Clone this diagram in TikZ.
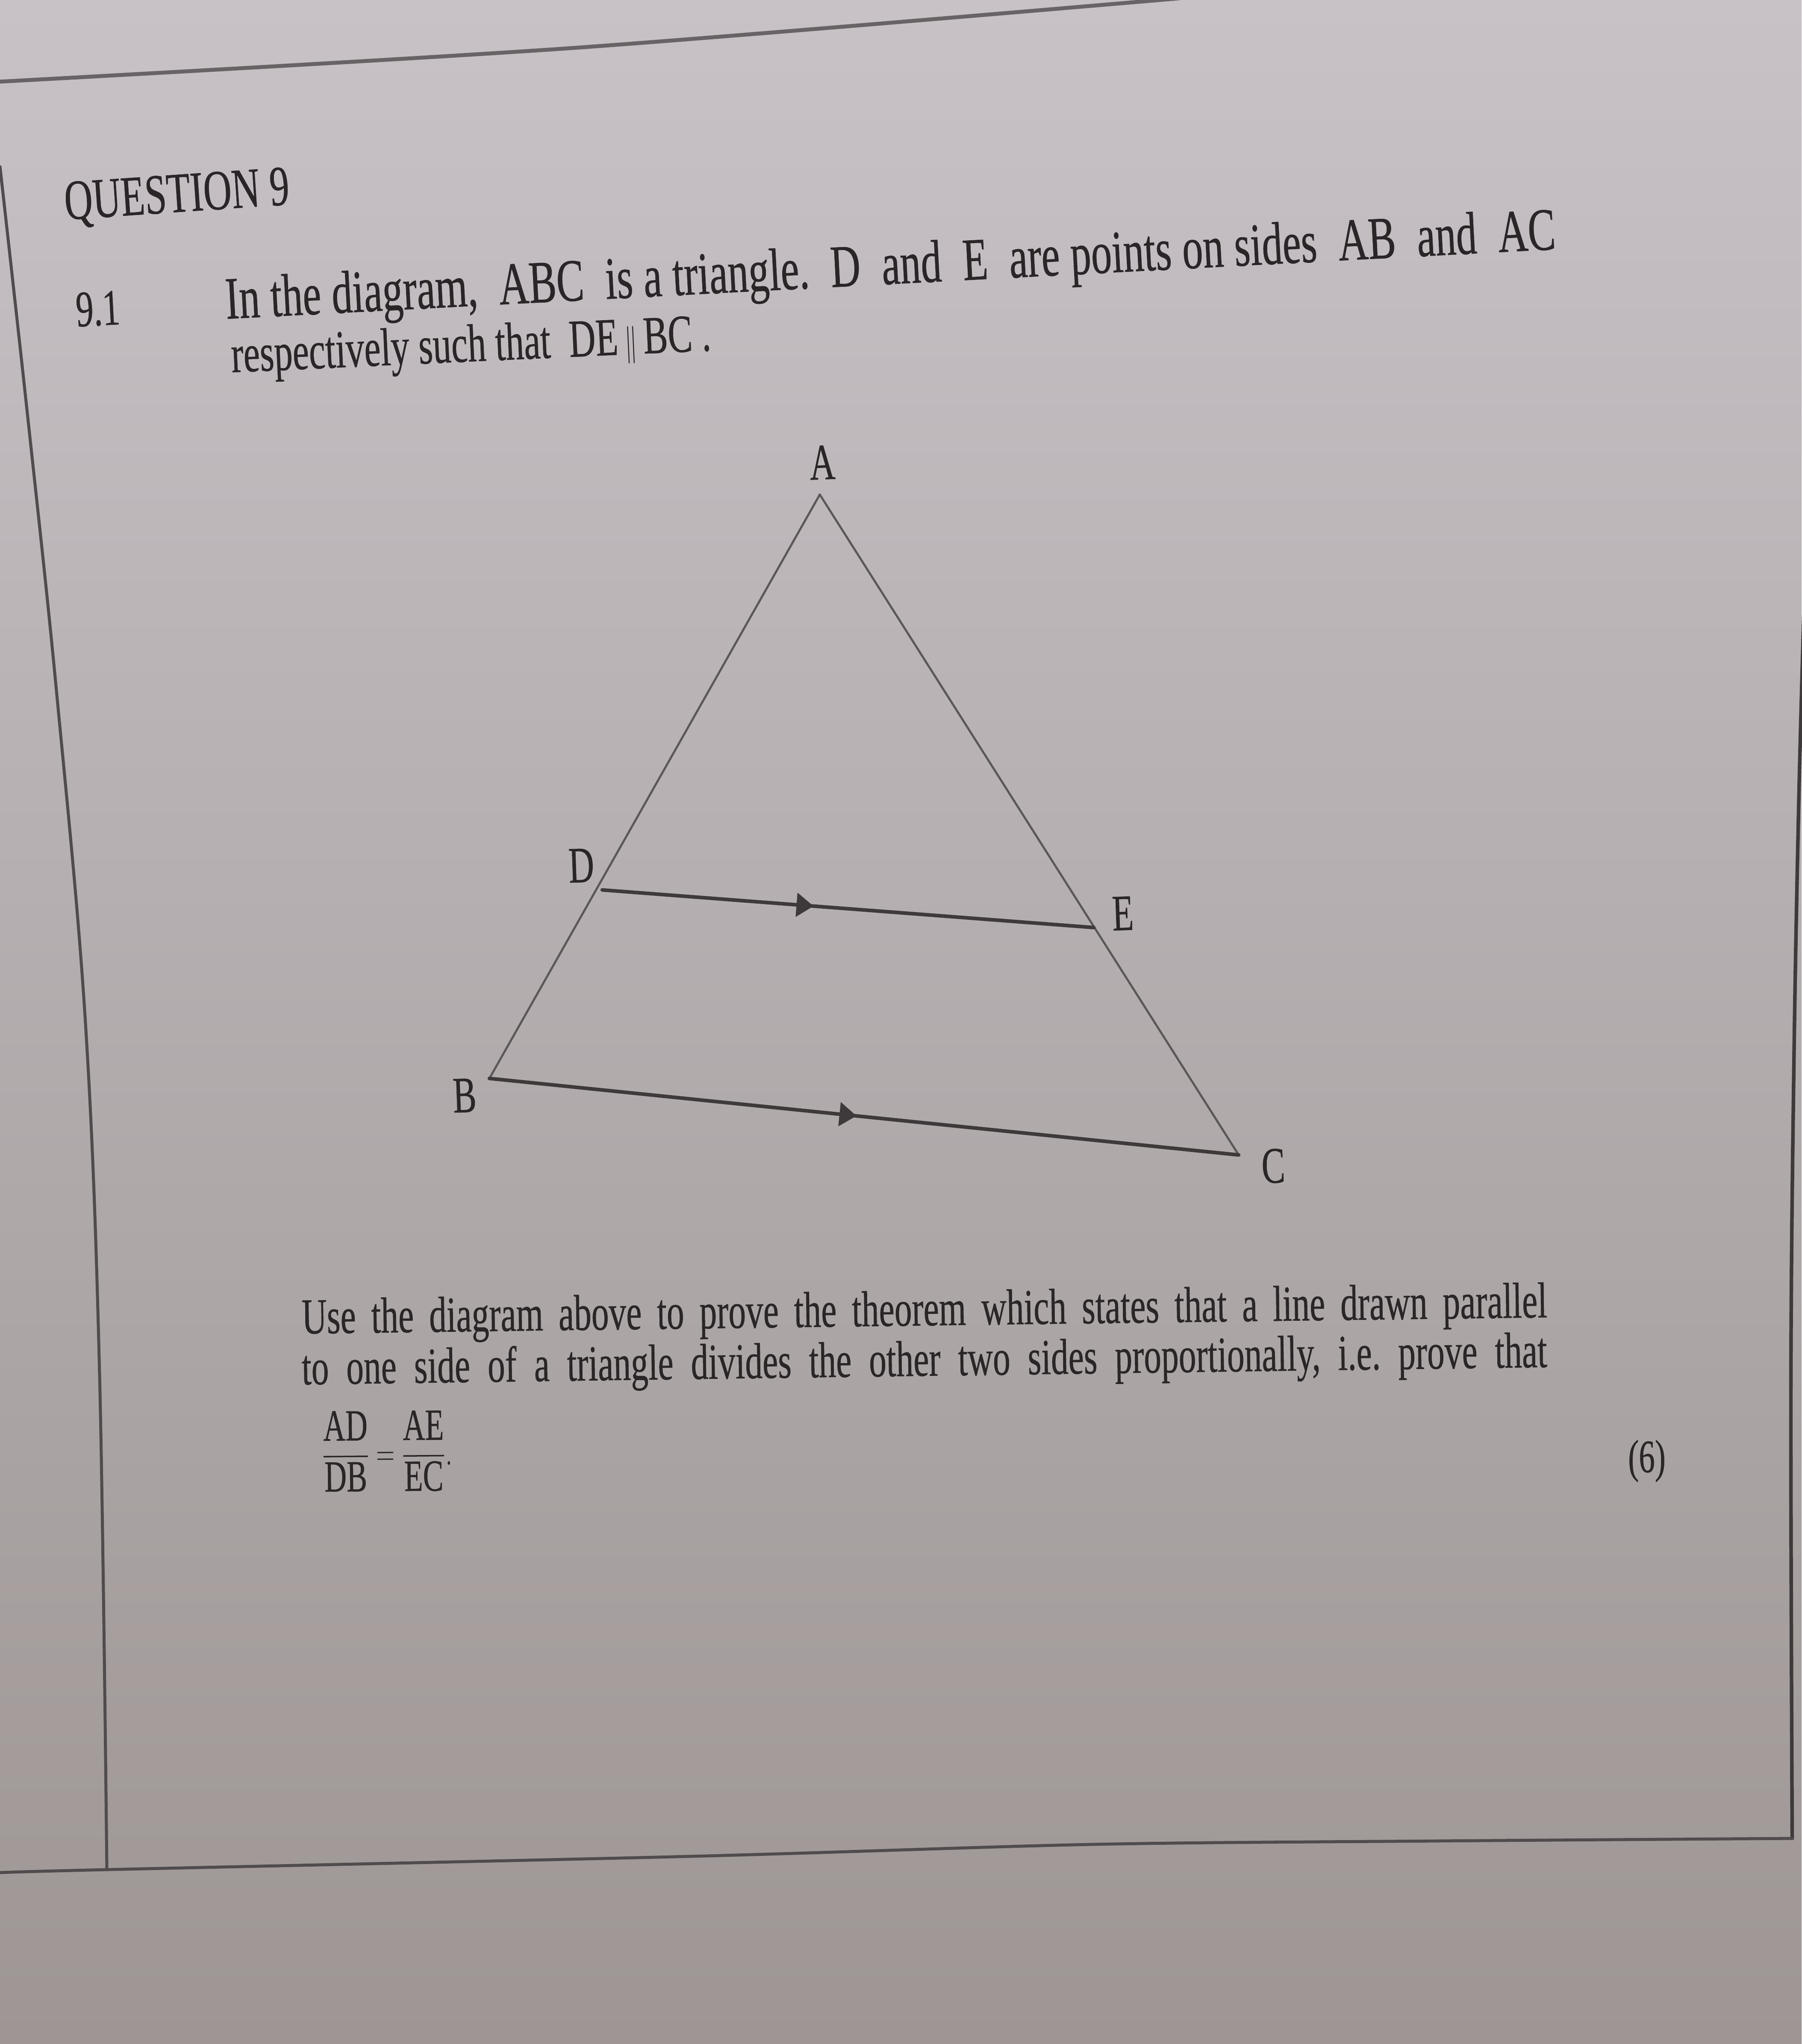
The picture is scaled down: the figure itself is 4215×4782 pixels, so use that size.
\documentclass[tikz,border=0pt]{standalone}
\usepackage{amsmath}
\usepackage{fontspec}
\setmainfont{Liberation Serif}[FakeBold=0.6]
\usetikzlibrary{arrows.meta,decorations.markings}
\definecolor{paperTop}{RGB}{200,194,199}
\definecolor{paperBot}{RGB}{157,150,148}
\definecolor{ink}{RGB}{42,38,40}
\definecolor{thinline}{RGB}{92,87,89}
\definecolor{boldline}{RGB}{62,57,58}
\definecolor{frameline}{RGB}{80,75,77}
\begin{document}
\frenchspacing
\begin{tikzpicture}[x=0.1mm, y=-0.1mm, line cap=round, line join=round,
  sq/.style={rotate=#1, xscale=0.69},
  txt/.style={text=ink, inner sep=0pt},
  lbl/.style={txt, font=\fontsize{34pt}{40pt}\selectfont, rotate=2, xscale=0.69},
  tri/.style={draw=thinline, line width=1.4pt},
  parl/.style={draw=boldline, line width=2.4pt, postaction={decorate},
    decoration={markings, mark=at position #1 with {\arrow{Triangle[length=4mm, width=5.5mm]}}}},
  frame/.style={draw=frameline, line width=2pt}]
\useasboundingbox (0,0) rectangle (4215,4782);
\fill[top color=paperTop, bottom color=paperBot] (0,0) rectangle (4215,4782);

% page frame lines
\draw[frame, draw=frameline!80!paperTop, line width=2.6pt] plot[smooth, tension=0.5] coordinates {(0,191) (1344,112) (2760,-4)};
\draw[frame] plot[smooth, tension=0.6] coordinates {(0,390) (67,995) (133,1626) (200,2394) (233,3216) (250,4374)};
\draw[frame, line width=2.4pt, draw=boldline] plot[smooth, tension=0.6] coordinates {(4220,1440) (4208,1893) (4197,2490) (4190,3236) (4193,4301)};
\draw[frame] plot[smooth, tension=0.5] coordinates {(0,4381) (250,4374) (1613,4343) (2554,4315) (3360,4307) (4194,4301)};

% header text
\node[txt, anchor=base west, sq=3.9, font=\fontsize{37.8pt}{44pt}\selectfont] (q9) at (153,514) {QUESTION 9};
\node[txt, anchor=base west, sq=3, font=\fontsize{34pt}{40pt}\selectfont] (n91) at (179,764) {9.1};
\node[txt, anchor=base west, sq=3, font=\fontsize{40pt}{48pt}\selectfont] (l1) at (529,746)
  {\makebox[45.16cm][s]{In the diagram,\ \ ABC\ \ is a triangle.\ \ D\ \ and\ \ E\ \ are points on sides\ \ AB\ \ and\ \ AC}};
\node[txt, anchor=base west, sq=2.6, font=\fontsize{35.6pt}{42pt}\selectfont] (l2) at (542,871)
  {respectively such that\ \ DE\,$\|$\,BC\ .};

% triangle
\coordinate (A) at (1918,1157);
\coordinate (B) at (1145,2523);
\coordinate (C) at (2898,2702);
\coordinate (D) at (1409,2082);
\coordinate (E) at (2559,2170);
\draw[tri] (A) -- (B);
\draw[tri] (A) -- (C);
\draw[parl=0.43] (D) -- (E);
\draw[parl=0.49] (B) -- (C);
\node[lbl] (lA) at (1924,1082) {A};
\node[lbl] (lD) at (1360,2025) {D};
\node[lbl] (lE) at (2627,2137) {E};
\node[lbl] (lB) at (1087,2563) {B};
\node[lbl] (lC) at (2979,2728) {C};

% question text
\node[txt, anchor=base west, sq=0.75, font=\fontsize{33.6pt}{40pt}\selectfont] (p1) at (706,3120)
  {\makebox[42.23cm][s]{Use the diagram above to prove the theorem which states that a line drawn parallel}};
\node[txt, anchor=base west, sq=0.8, font=\fontsize{33.6pt}{40pt}\selectfont] (p2) at (706,3239)
  {\makebox[42.23cm][s]{to one side of a triangle divides the other two sides proportionally, i.e. prove that}};
\node[txt, sq=0.5, font=\fontsize{29.6pt}{36pt}\selectfont] (frac) at (906,3395)
  {$\dfrac{\mbox{AD}}{\mbox{DB}}=\dfrac{\mbox{AE}}{\mbox{EC}}.$};
\node[txt, sq=0, font=\fontsize{31pt}{36pt}\selectfont] (marks) at (3853,3418) {(6)};
\end{tikzpicture}
\end{document}
